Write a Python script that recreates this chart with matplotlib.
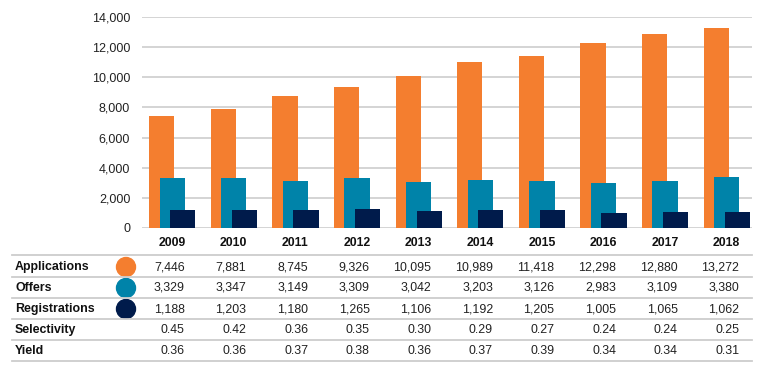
import matplotlib
matplotlib.use('Agg')
import matplotlib.pyplot as plt
from matplotlib.transforms import blended_transform_factory
from matplotlib.lines import Line2D
from matplotlib.patches import Ellipse

plt.rcParams['font.family'] = ['Liberation Sans', 'DejaVu Sans']

years = ['2009', '2010', '2011', '2012', '2013', '2014', '2015', '2016', '2017', '2018']
applications = [7446, 7881, 8745, 9326, 10095, 10989, 11418, 12298, 12880, 13272]
offers = [3329, 3347, 3149, 3309, 3042, 3203, 3126, 2983, 3109, 3380]
registrations = [1188, 1203, 1180, 1265, 1106, 1192, 1205, 1005, 1065, 1062]
selectivity = [0.45, 0.42, 0.36, 0.35, 0.30, 0.29, 0.27, 0.24, 0.24, 0.25]
yield_rate = [0.36, 0.36, 0.37, 0.38, 0.36, 0.37, 0.39, 0.34, 0.34, 0.31]

c_app = '#F47E2F'
c_off = '#0083A9'
c_reg = '#001B4B'
grid_c = '#CDCDCD'

W, H = 766, 375
fig = plt.figure(figsize=(W / 100, H / 100), dpi=100)

# axes placed in pixel terms
ax_l, ax_r, ax_t, ax_b = 142, 752, 17, 228
ax = fig.add_axes([ax_l / W, 1 - ax_b / H, (ax_r - ax_l) / W, (ax_b - ax_t) / H])

x = list(range(len(years)))
w = 0.41
off = 0.17
ax.bar([i - off for i in x], applications, width=w, color=c_app, zorder=2)
ax.bar(x, offers, width=w, color=c_off, zorder=3)
ax.bar([i + off for i in x], registrations, width=w, color=c_reg, zorder=4)

ax.set_ylim(0, 14000)
ax.set_xlim(-0.49, 9.41)
ax.set_yticks(range(0, 14001, 2000))
ax.set_yticklabels([f'{v:,}' for v in range(0, 14001, 2000)], fontsize=9, color='#222222')
ax.set_xticks([])
ax.tick_params(axis='y', length=0, pad=8.5)
for s in ax.spines.values():
    s.set_visible(False)
ax.grid(axis='y', color=grid_c, linewidth=1.2, zorder=0)
ax.set_axisbelow(True)

# table below the chart: x in data units, y in figure fraction
tr = blended_transform_factory(ax.transData, fig.transFigure)
def fy(py):
    return 1 - py / H

for i, yr in enumerate(years):
    ax.text(i, fy(243), yr, transform=tr, ha='center', va='center',
            fontsize=8.8, fontweight='bold', color='#111111')

line_ys = [255, 277, 298, 319, 340, 361]
for ly in line_ys:
    fig.add_artist(Line2D([12 / W, 752 / W], [fy(ly), fy(ly)], color=grid_c, linewidth=1.3))

rows = [
    ('Applications', [f'{v:,}' for v in applications], c_app),
    ('Offers', [f'{v:,}' for v in offers], c_off),
    ('Registrations', [f'{v:,}' for v in registrations], c_reg),
    ('Selectivity', [f'{v:.2f}' for v in selectivity], None),
    ('Yield', [f'{v:.2f}' for v in yield_rate], None),
]
row_ys = [267, 288, 309, 330, 351]
for (label, vals, col), ry in zip(rows, row_ys):
    fig.text(15 / W, fy(ry), label, ha='left', va='center', fontsize=8.9,
             fontweight='bold', color='#111111')
    if col is not None:
        fig.add_artist(Ellipse((126 / W, fy(ry)), 19 / W, 19 / H, color=col))
    for i, v in enumerate(vals):
        ax.text(i + 0.205, fy(ry), v, transform=tr, ha='right', va='center',
                fontsize=8.9, color='#222222')

fig.savefig('out.png', dpi=100)
